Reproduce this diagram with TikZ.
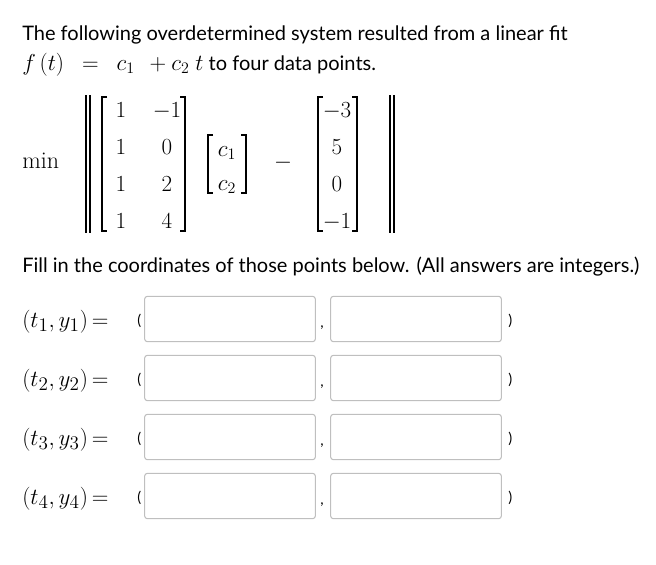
\documentclass[tikz,border=0pt]{standalone}
\usepackage{amsmath}
\usepackage{fontspec}
\setmainfont{Lato}
\newfontfamily\lmr{Latin Modern Roman}
\begin{document}
\begin{tikzpicture}[x=0.75pt,y=-0.75pt,
  txt/.style={anchor=base west,inner sep=0pt,font=\fontsize{15}{17}\selectfont},
  ent/.style={anchor=base,inner sep=0pt,font=\fontsize{16.5}{18}\selectfont},
  brk/.style={line width=0.8pt},
  bar/.style={line width=0.8pt},
  ansbox/.style={draw=black!25,rounded corners=2pt,line width=0.8pt,minimum width=128pt,minimum height=34pt,inner sep=0pt},
  lbl/.style={anchor=base west,inner sep=0pt,font=\fontsize{19}{21}\selectfont}]
\useasboundingbox (0,0) rectangle (656,564);
\node[txt] (l1) at (22,40) {The following overdetermined system resulted from a linear fit};
\node[txt] (l2) at (22,70) {{\fontsize{17}{19}\selectfont$f\,(t)\ \ =\ \ c_1\ \,+c_2\ t$} to four data points.};
% min
\node[ent,anchor=base west,font=\fontsize{18}{20}\selectfont] (min) at (22,168) {\lmr min};
% norm bars
\draw[bar] (86,95) -- (86,233) (90,95) -- (90,233);
\draw[bar] (390,95) -- (390,233) (394,95) -- (394,233);
% matrix A
\draw[brk] (107,97) -- (102,97) -- (102,231) -- (107,231);
\draw[brk] (180,97) -- (185,97) -- (185,231) -- (180,231);
\foreach \y/\a/\b [count=\i] in {117/1/-1,154/1/0,191/1/2,228/1/4}{
  \node[ent] (a\i) at (121,\y) {$\a$};
  \node[ent] (b\i) at (167,\y) {$\b$};}
% vector c
\draw[brk] (213,135) -- (208,135) -- (208,193) -- (213,193);
\draw[brk] (241,135) -- (246,135) -- (246,193) -- (241,193);
\node[ent] (c1) at (227,156) {$c_1$};
\node[ent] (c2) at (227,190) {$c_2$};
\node[ent] (minus) at (283,168) {$-$};
% vector b
\draw[brk] (323,97) -- (318,97) -- (318,231) -- (323,231);
\draw[brk] (352,97) -- (357,97) -- (357,231) -- (352,231);
\foreach \y/\v [count=\i] in {117/-3,154/5,191/0,228/-1}{
  \node[ent] (v\i) at (337,\y) {$\v$};}
\node[txt] (fill) at (22,272) {Fill in the coordinates of those points below. (All answers are integers.)};
\foreach \y [count=\i] in {319,378,437,496}{
  \node[lbl] (p\i) at (22,\y+8) {$(t_{\i},y_{\i})\,{=}$};
  \node[txt,font=\fontsize{11}{13}\selectfont] (o\i) at (137,\y+6) {(};
  \node[ansbox] (x\i) at (230,\y) {};
  \node[txt,font=\fontsize{11}{13}\selectfont] (k\i) at (320,\y+8) {,};
  \node[ansbox] (y\i) at (416,\y) {};
  \node[txt,font=\fontsize{11}{13}\selectfont] (r\i) at (508,\y+6) {)};
}
\end{tikzpicture}
\end{document}
